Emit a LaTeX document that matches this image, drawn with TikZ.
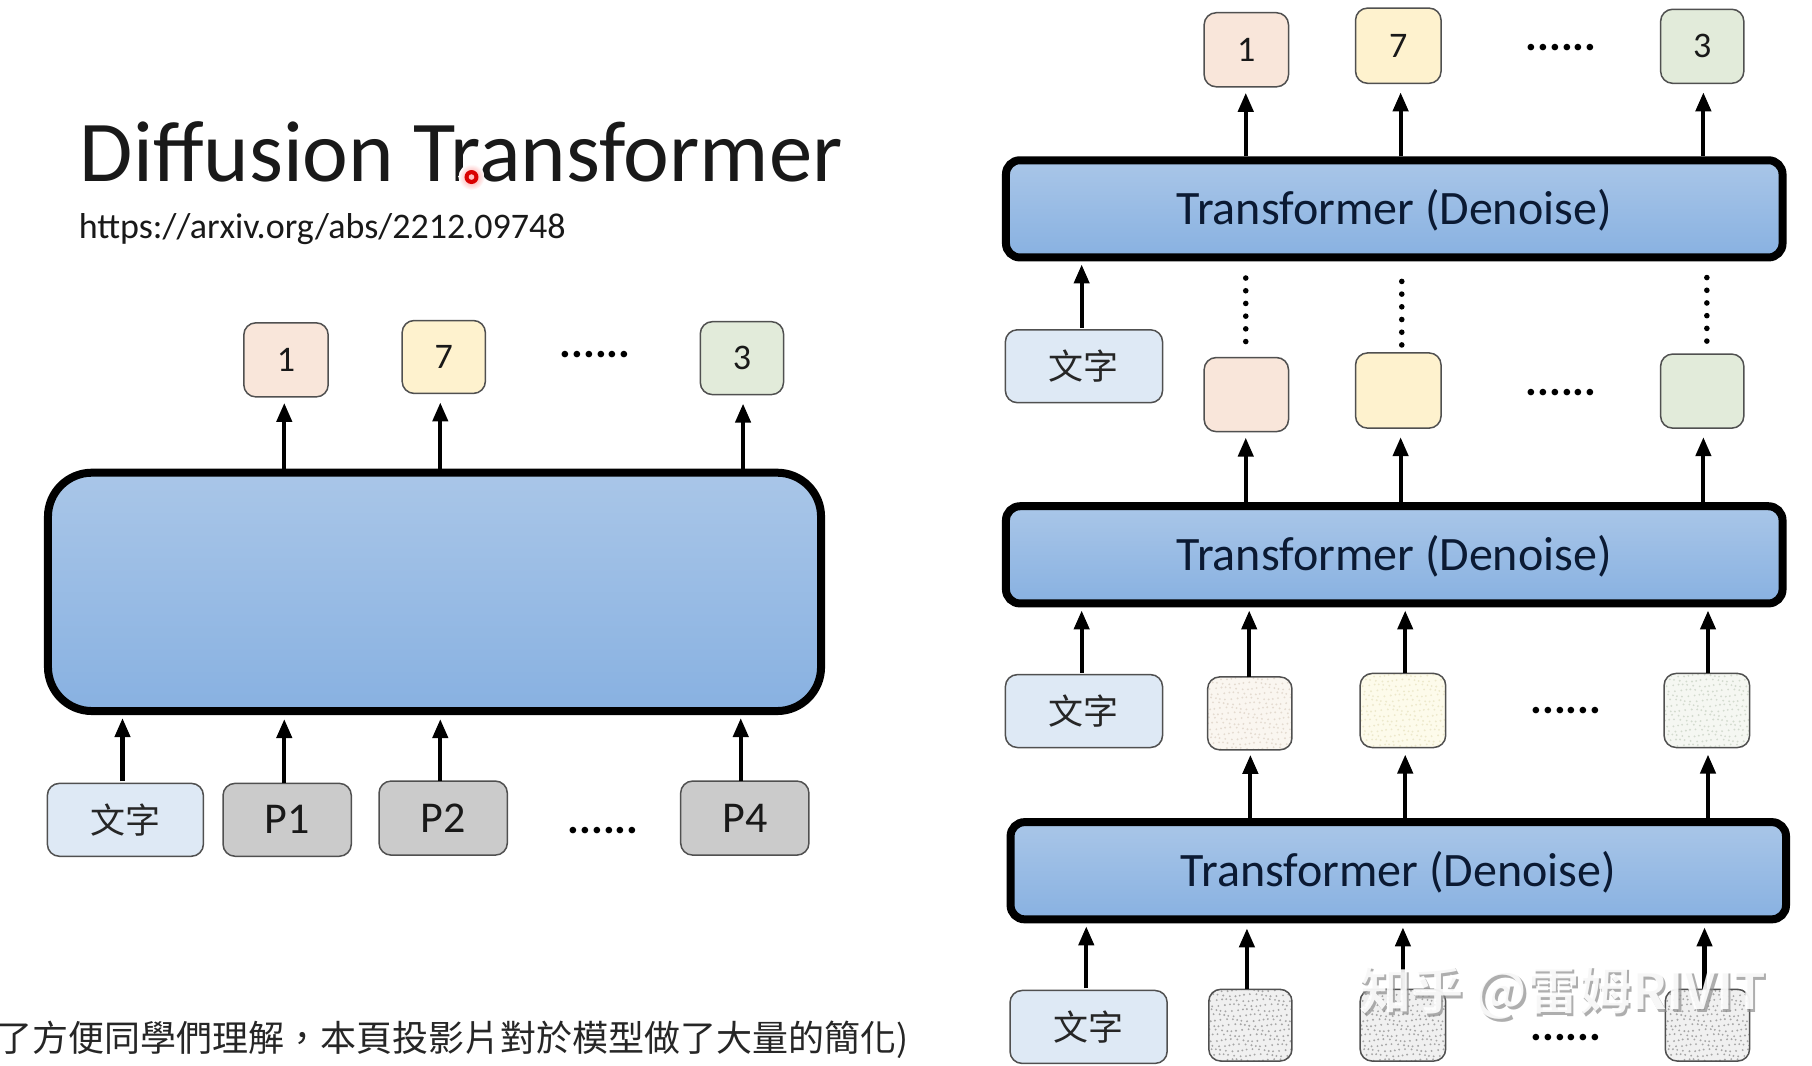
\documentclass[tikz,border=0pt]{standalone}
\usepackage{fontspec}
\setmainfont{Carlito}
\newfontfamily\cjk{Noto Sans CJK TC}
\newfontfamily\cjkwm{Noto Sans CJK SC}[BoldFont={Noto Sans CJK SC Bold}]
\usetikzlibrary{arrows.meta,calc}
\definecolor{peach}{HTML}{F9E6DA}
\definecolor{butter}{HTML}{FEF2CE}
\definecolor{sage}{HTML}{E2EBDA}
\definecolor{paleblue}{HTML}{DEE9F5}
\definecolor{stone}{HTML}{CBCBCB}
\definecolor{edge}{HTML}{505050}
\definecolor{navy}{HTML}{0B1A33}
\definecolor{blocktop}{HTML}{A9C6E8}
\definecolor{blockbot}{HTML}{88B1E1}
\definecolor{nA}{HTML}{FAF6F0}\definecolor{dA}{HTML}{E4DBD0}
\definecolor{nB}{HTML}{FDFBEB}\definecolor{dB}{HTML}{EDE9CC}
\definecolor{nC}{HTML}{F5F7F2}\definecolor{dC}{HTML}{D3DBCF}
\definecolor{nD}{HTML}{F0F0F0}\definecolor{dD}{HTML}{A6A6A6}
\newcommand\speckle[1]{%
  \fill[#1] \foreach \i in {-9,...,9}{\foreach \j in {-8,...,8}{
    ({(\i*5.3+mod(\j+8,2)*2.6+1.1*sin((\i+9)*73+(\j+8)*131))*1pt},{(\j*5+1.1*cos((\i+9)*47+(\j+8)*97))*1pt}) circle[radius=1.05pt]}};}
\tikzset{
  x=1.1555pt,y=-1.157pt,
  small/.style={draw=edge,line width=1.5pt,rounded corners=12pt,inner sep=0pt,outer sep=0pt},
  numfont/.style={font=\fontsize{36}{36}\selectfont,text=black!90},
  bigfont/.style={font=\fontsize{44}{44}\selectfont,text=black!90},
  wordbox/.style={small,fill=paleblue,font=\cjk\fontsize{35}{35}\selectfont,text=black!85},
  patch/.style={small,fill=stone,bigfont},
  block/.style={draw=black,line width=8pt,rounded corners=14pt,top color=blocktop,bottom color=blockbot,inner sep=0pt,font=\fontsize{48}{48}\selectfont,text=navy},
  flow/.style={line width=4.2pt,-{Triangle[width=15pt,length=19pt]}},
  ellipsisdots/.style={line width=5.6pt,line cap=round,dash pattern=on 0pt off 12.7pt},
  hdots/.style={font=\bfseries\fontsize{44}{44}\selectfont,anchor=base,inner sep=0pt},
  noise/.style 2 args={small,fill=#1,path picture={\speckle{#2}}},
}
\newcommand\bx[7]{\node[#6,minimum width={(#4-#2)*1.1555pt},minimum height={(#5-#3)*1.157pt}] (#1) at ({(#2+#4)/2},{(#3+#5)/2}) {#7};}
\newcommand\up[5]{\coordinate (cx) at (#3,0); \draw[flow,shorten <=#4pt,shorten >=#5pt] (#1.north -| cx) -- (#2.south -| cx);}
\newcommand\vdotsline[5]{\coordinate (cx) at (#3,0); \draw[ellipsisdots,shorten <=#4pt,shorten >=#5pt] (#1.north -| cx) -- (#2.south -| cx);}
\newcommand\tlabel{\raisebox{-16pt}[0pt][0pt]{Transformer (Denoise)}}
\begin{document}
\begin{tikzpicture}
\fill[white] (0,0) rectangle (1568,920.5);
\useasboundingbox (0,0) rectangle (1568,920.5);
\clip (0,0) rectangle (1568,920.5);

% --- left panel ---
\node[anchor=base west,inner sep=0pt,font=\fontsize{86.7}{86.7}\selectfont,text=black!90] (title) at (69,157) {Diffusion Transformer};
\node[anchor=base west,inner sep=0pt,font=\fontsize{36}{36}\selectfont,text=black!90] (url) at (68,206) {https://arxiv.org/abs/2212.09748};
\shade[inner color=red!45,outer color=white] (408,153) circle (13pt);
\fill[red!85!black] (408,153) circle (7pt);
\fill[white!75!red] (408,153) circle (2.8pt);

\bx{o1}{211}{279}{284}{343}{small,fill=peach,numfont}{1}
\bx{o2}{348}{277}{420}{340}{small,fill=butter,numfont}{7}
\bx{o3}{606}{278}{678}{341}{small,fill=sage,numfont}{3}
\node[hdots] (ldotstop) at (515,309) {......};
\bx{main}{41.5}{408.5}{710.5}{614.5}{block,rounded corners=44pt}{}
\bx{lw}{41}{677}{176}{740}{wordbox}{文字}
\bx{p1}{193}{677}{304}{740}{patch}{P1}
\bx{p2}{328}{675}{439}{739}{patch}{P2}
\bx{p4}{589}{675}{700}{739}{patch}{P4}
\node[hdots] (ldotsbot) at (522,720) {......};
\up{main}{o1}{246}{0}{6}
\up{main}{o2}{381}{0}{9}
\up{main}{o3}{643}{0}{9}
\up{lw}{main}{106}{2}{3}
\up{p1}{main}{246}{0}{4}
\up{p2}{main}{381}{0}{4}
\up{p4}{main}{641}{0}{3}
\node[anchor=base west,inner sep=0pt,font=\cjk\fontsize{36}{36}\selectfont,text=black!85] (note) at (-3,909) {了方便同學們理解\char"FF0C 本頁投影片對於模型做了大量的簡化)};

% --- right panel ---
\bx{r1}{1042}{11}{1115}{75}{small,fill=peach,numfont}{1}
\bx{r2}{1173}{7}{1247}{72}{small,fill=butter,numfont}{7}
\bx{r3}{1437}{8}{1509}{72}{small,fill=sage,numfont}{3}
\node[hdots] (rdots1) at (1351,44) {......};
\bx{t1}{870.5}{138.5}{1542.5}{222.5}{block}{\tlabel}
\up{t1}{r1}{1078}{0}{6}
\up{t1}{r2}{1212}{0}{9}
\up{t1}{r3}{1474}{0}{9}
\bx{w1}{870}{285}{1006}{348}{wordbox}{文字}
\up{w1}{t1}{936}{2}{3}
\bx{m1}{1042}{309}{1115}{373}{small,fill=peach}{}
\bx{m2}{1173}{305}{1247}{370}{small,fill=butter}{}
\bx{m3}{1437}{306}{1509}{370}{small,fill=sage}{}
\node[hdots] (rdots2) at (1351,342) {......};
\vdotsline{m1}{t1}{1078}{16}{16}
\vdotsline{m2}{t1}{1213}{8}{19}
\vdotsline{m3}{t1}{1477}{13}{16}
\bx{t2}{870.5}{437.5}{1542.5}{521.5}{block}{\tlabel}
\up{t2}{m1}{1078}{0}{6}
\up{t2}{m2}{1212}{0}{9}
\up{t2}{m3}{1474}{0}{9}
\bx{w2}{870}{583}{1006}{646}{wordbox}{文字}
\up{w2}{t2}{936}{2}{3}
\bx{n1}{1045}{585}{1118}{648}{noise={nA}{dA}}{}
\bx{n2}{1177}{582}{1251}{646}{noise={nB}{dB}}{}
\bx{n3}{1440}{582}{1514}{646}{noise={nC}{dC}}{}
\node[hdots] (rdots3) at (1355,617) {......};
\up{n1}{t2}{1081}{0}{3}
\up{n2}{t2}{1216}{0}{3}
\up{n3}{t2}{1478}{0}{3}
\bx{t3}{874.5}{710.5}{1545.5}{794.5}{block}{\tlabel}
\up{t3}{n1}{1082}{0}{5}
\up{t3}{n2}{1216}{0}{7}
\up{t3}{n3}{1478}{0}{7}
\bx{w3}{874}{856}{1010}{919}{wordbox}{文字}
\bx{s1}{1046}{855}{1118}{917}{noise={nD}{dD}}{}
\bx{s2}{1177}{855}{1251}{917}{noise={nD}{dD}}{}
\bx{s3}{1441}{855}{1514}{917}{noise={nD}{dD}}{}
\node[hdots] (rdots4) at (1355,899) {......};
\up{w3}{t3}{940}{2}{3}
\up{s1}{t3}{1079}{0}{5}
\up{s2}{t3}{1214}{0}{4}
\up{s3}{t3}{1475}{0}{4}

% --- watermark ---
\node[anchor=center,inner sep=0pt,font=\cjkwm\bfseries\fontsize{52}{52}\selectfont,text=black!45,opacity=.7] (wmshadow) at (1354,860) {知乎 @雷姆RIVIT};
\node[anchor=center,inner sep=0pt,font=\cjkwm\bfseries\fontsize{52}{52}\selectfont,text=white,opacity=.9] (wm) at (1352,858) {知乎 @雷姆RIVIT};
\end{tikzpicture}
\end{document}
